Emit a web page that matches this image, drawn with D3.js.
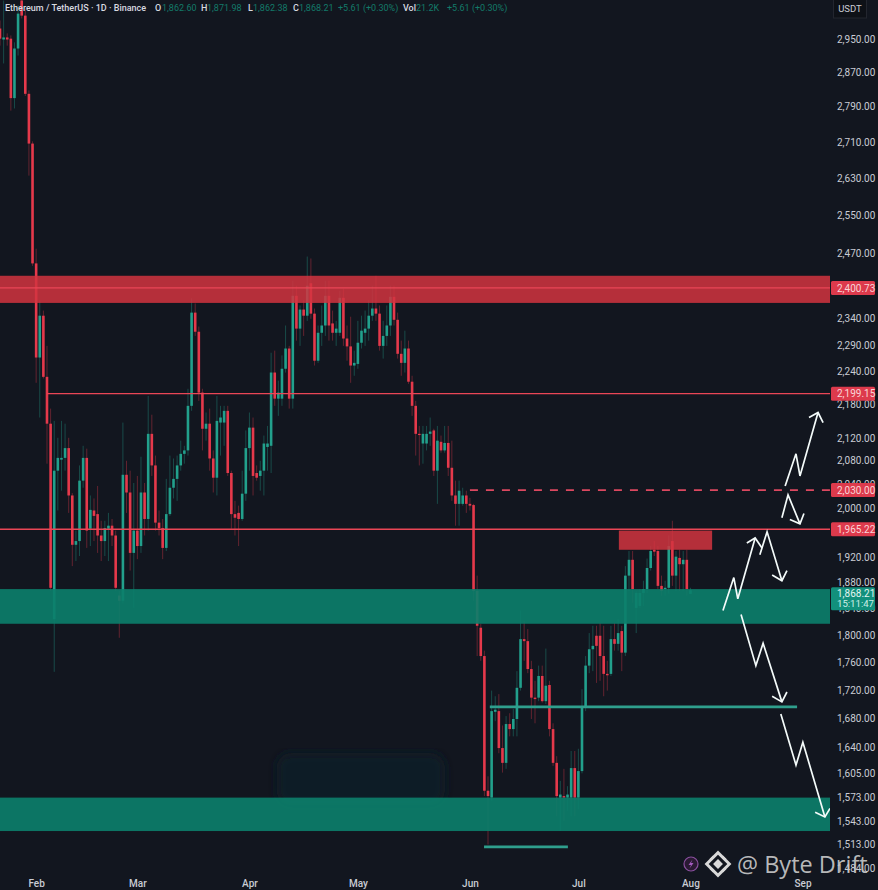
<!DOCTYPE html>
<html>
<head>
<meta charset="utf-8">
<title>ETHUSDT 1D</title>
<script src="https://cdn.jsdelivr.net/npm/d3@7"></script>
<style>
  html, body { margin: 0; padding: 0; background: #12161f; overflow: hidden; }
  svg { display: block; font-family: Roboto, "Noto Sans", sans-serif; }
</style>
</head>
<body>
<div id="chart"></div>
<script>
// Daily candles, first bar is 22 Jan
const opens = [
  2977,2950,2955,2952,2810,2928,3047,3009,2820,2706,
  2450,2266,2346,2230,2145,1824,2063,2082,2085,2102,
  2021,1940,1946,2046,2085,1966,1996,1990,1955,1946,
  1966,1971,1955,1860,1852,2056,2026,1927,1963,1938,
  2026,1982,2127,2072,1976,1967,1935,1990,2034,2049,
  2072,2092,2098,2177,2352,2315,2201,2136,2145,2084,
  2051,2147,2147,2168,2059,1990,1992,1982,2024,2102,
  2138,2059,2054,2063,2104,2106,2238,2190,2190,2245,
  2283,2190,2385,2321,2358,2346,2410,2350,2260,2313,
  2327,2385,2331,2313,2313,2381,2302,2287,2251,2254,
  2294,2313,2321,2346,2360,2350,2288,2307,2327,2383,
  2338,2273,2256,2283,2221,2177,2127,2110,2110,2127,
  2133,2063,2113,2098,2111,2068,2021,2007,2007,2021,
  2007,2005,1867,1811,1769,1582,1573,1689,1690,1639,
  1619,1672,1665,1679,1723,1794,1791,1750,1709,1709,
  1740,1704,1727,1665,1619,1573,1575,1573,1573,1612,
  1573,1608,1697,1755,1779,1799,1799,1769,1743,1743,
  1794,1787,1806,1774,1891,1916,1841,1844,1864,1870,
  1903,1932,1930,1875,1870,1872,1946,1891,1919,1909,
  1916,1862.6
];
const closes = [
  2952,2955,2950,2810,2928,3014,3009,2820,2706,2450,
  2266,2346,2230,2145,1872,2063,2085,2085,2102,2021,
  1940,1946,2046,2085,1963,1997,1987,1955,1946,1967,
  1971,1955,1872,1852,2056,2026,1927,1963,1938,2026,
  1982,2127,2072,1976,1967,1935,1990,2034,2049,2072,
  2092,2098,2177,2352,2315,2201,2136,2145,2084,2051,
  2150,2156,2168,2059,1990,1984,1982,2024,2102,2138,
  2054,2051,2063,2110,2110,2238,2190,2201,2245,2283,
  2190,2385,2321,2358,2346,2405,2350,2260,2313,2327,
  2385,2327,2313,2321,2381,2302,2287,2251,2256,2294,
  2317,2321,2346,2360,2350,2288,2307,2327,2383,2338,
  2273,2256,2283,2221,2177,2127,2125,2127,2127,2131,
  2063,2115,2098,2111,2068,2021,2007,2029,2021,2007,
  2004,1867,1814,1769,1582,1575,1690,1692,1639,1619,
  1672,1665,1679,1723,1794,1791,1750,1709,1707,1740,
  1704,1726,1665,1619,1575,1577,1573,1577,1612,1573,
  1608,1697,1755,1779,1784,1784,1769,1743,1741,1794,
  1787,1803,1774,1891,1916,1870,1864,1864,1870,1903,
  1930,1929,1875,1867,1872,1938,1891,1921,1909,1916,
  1870,1868.21
];
const highs = [
  2997,3047,2965,2960,2943,3035,3050,3027,2828,2711,
  2480,2376,2356,2288,2172,2150,2120,2150,2145,2120,
  2025,1963,2072,2106,2101,2021,2016,2037,1979,1979,
  1992,1982,1963,1867,2147,2080,2063,2042,2054,2087,
  2042,2195,2161,2089,1996,1982,2049,2089,2084,2089,
  2115,2106,2208,2380,2370,2325,2208,2165,2172,2098,
  2195,2177,2177,2177,2063,2012,2004,2063,2133,2165,
  2156,2072,2080,2124,2141,2275,2279,2223,2270,2327,
  2288,2415,2405,2366,2376,2464,2460,2360,2327,2366,
  2415,2415,2356,2336,2395,2399,2327,2344,2279,2336,
  2346,2356,2376,2405,2425,2366,2336,2366,2405,2405,
  2352,2298,2317,2298,2232,2186,2141,2141,2141,2156,
  2136,2141,2124,2141,2141,2115,2046,2046,2034,2029,
  2017,2007,1891,1817,1777,1601,1719,1711,1714,1670,
  1683,1687,1693,1747,1837,1821,1809,1762,1733,1755,
  1755,1780,1733,1673,1628,1595,1611,1588,1635,1635,
  1638,1721,1769,1803,1814,1814,1818,1814,1762,1814,
  1818,1824,1814,1906,1930,1930,1867,1870,1883,1918,
  1938,1946,1938,1891,1883,1955,1979,1930,1932,1930,
  1932,1871.98
];
const lows = [
  2935,2892,2935,2781,2786,2911,3002,2815,2635,2445,
  2219,2156,2227,2075,1867,1746,1996,2029,2063,1992,
  1906,1914,1922,2034,1935,1938,1946,1927,1914,1922,
  1914,1938,1867,1796,1848,1992,1899,1841,1917,1927,
  1955,1963,2054,1963,1955,1917,1930,1987,2016,2012,
  2063,2075,2089,2168,2307,2186,2098,2115,2063,2026,
  2021,2089,2106,2054,1966,1955,1938,1979,2012,2063,
  2021,2046,2029,2021,2063,2059,2177,2159,2177,2238,
  2172,2172,2298,2288,2307,2336,2340,2251,2256,2288,
  2307,2298,2298,2288,2307,2288,2260,2219,2232,2245,
  2283,2288,2298,2336,2336,2279,2264,2288,2307,2327,
  2264,2232,2238,2217,2159,2089,2072,2075,2098,2106,
  2054,2007,2094,2094,2054,2012,1971,1971,2004,1992,
  1996,1852,1769,1762,1575,1513,1569,1676,1632,1606,
  1611,1655,1655,1655,1719,1762,1744,1679,1673,1704,
  1702,1700,1655,1615,1549,1530,1543,1556,1549,1549,
  1558,1605,1690,1744,1747,1730,1733,1711,1719,1740,
  1777,1777,1747,1769,1867,1849,1803,1841,1844,1864,
  1899,1922,1870,1860,1860,1863,1875,1867,1867,1867,
  1860,1862.38
];

// Axis ticks
const priceTicks = [2950,2870,2790,2710,2630,2550,2470,2340,2290,2240,2180,2120,2080,2040,2000,
  1920,1880,1840,1800,1760,1720,1680,1640,1605,1573,1543,1513,1484];
const monthLabels = ["Feb","Mar","Apr","May","Jun","Jul","Aug","Sep"];
const monthBars = [10,38,69,99,130,160,191,222];

// Drawn levels and zones: [bar start, bar end, price top, price bottom]
const redZones = [[0,230,2425,2371],[171.2,197,1963,1932]];
const greenZones = [[0,230,1870,1817],[0,230,1573,1530]];
const faintBox = [76.6,123,1632,1563];
// [price, bar start, bar end]
const redLines = [[2400.73,0,230],[2199.15,13,230],[1965.22,0,230]];
const dashedLines = [[2030,130,230]];
const greenLines = [[1696,135.5,220.5],[1510,133.9,157.1]];

// Hand drawn arrows as [bar, price]
const arrowPaths = [
  [[200,1837],[203,1888],[204.1,1855],[208.9,1951]],
  [[206.6,1943],[208.9,1951],[210.8,1935]],
  [[210.2,1924],[212.2,1961],[216.3,1883]],
  [[213.6,1892],[216.3,1883],[217.7,1899]],
  [[217.2,2037],[220.2,2092],[221.3,2054],[226.3,2165]],
  [[223.8,2156],[226.3,2165],[227.7,2147]],
  [[216.3,1984],[218,2022],[221.3,1974]],
  [[218.5,1981],[221.3,1974],[222.4,1991]],
  [[205,1831],[209.1,1755],[211.1,1788],[216.3,1703]],
  [[213.6,1711],[216.3,1703],[217.7,1717]],
  [[216,1686],[220.2,1616],[222.1,1647],[228.2,1548]],
  [[225.5,1554],[228.2,1548],[229.6,1559]]
];

// Price scale tags
const tagPrices = [2400.73,2199.15,2030,1965.22];
const lastPrice = 1868.21;
const countdown = "15:11:47";

const headerParts = [
  ["Ethereum / TetherUS · 1D · Binance", 5, "t"],
  ["O", 155, "t"], ["1,862.60", 162, "v"],
  ["H", 201, "t"], ["1,871.98", 207, "v"],
  ["L", 248, "t"], ["1,862.38", 253, "v"],
  ["C", 293, "t"], ["1,868.21", 299, "v"],
  ["+5.61 (+0.30%)", 338, "v"],
  ["Vol", 403, "t"], ["21.2K", 416, "v"],
  ["+5.61 (+0.30%)", 447, "v"]
];

const W = 878, H = 890, plotRight = 830;
const UP = "#22a08c", DOWN = "#e5394b";

const svg = d3.select("#chart").append("svg").attr("width", W).attr("height", H);
svg.append("rect").attr("width", W).attr("height", H).attr("fill", "#12161f");

const x = d3.scaleLinear().domain([0, 222]).range([0, 802.5]);
const y = d3.scaleLog().domain([1513, 2950]).range([844.5, 39.5]);
const fmt = d3.format(",.2f");

const plot = svg.append("g");
plot.append("clipPath").attr("id", "plot-clip").append("rect")
  .attr("width", plotRight).attr("height", H);
plot.attr("clip-path", "url(#plot-clip)");

// faint leftover box behind the candles
svg.append("filter").attr("id", "soft").append("feGaussianBlur").attr("stdDeviation", 5);
plot.append("rect")
  .attr("x", x(faintBox[0])).attr("width", x(faintBox[1]) - x(faintBox[0]))
  .attr("y", y(faintBox[2])).attr("height", y(faintBox[3]) - y(faintBox[2]))
  .attr("rx", 14).attr("fill", "#101d25").attr("filter", "url(#soft)");

// candles
const bars = d3.range(opens.length);
const color = i => closes[i] >= opens[i] ? UP : DOWN;

plot.selectAll("line.wick").data(bars).join("line")
  .attr("class", "wick")
  .attr("x1", i => x(i)).attr("x2", i => x(i))
  .attr("y1", i => y(highs[i])).attr("y2", i => y(lows[i]))
  .attr("stroke", color).attr("stroke-width", 0.9).attr("opacity", 0.42);

plot.selectAll("rect.body").data(bars).join("rect")
  .attr("class", "body")
  .attr("x", i => x(i) - 1.3).attr("width", 2.6)
  .attr("y", i => y(Math.max(opens[i], closes[i])))
  .attr("height", i => Math.max(1.2, Math.abs(y(opens[i]) - y(closes[i]))))
  .attr("fill", color);

// zones sit above the candles, slightly see through
function drawZones(data, fill, alpha) {
  plot.append("g").selectAll("rect").data(data).join("rect")
    .attr("x", d => x(d[0])).attr("width", d => x(d[1]) - x(d[0]))
    .attr("y", d => y(d[2])).attr("height", d => y(d[3]) - y(d[2]))
    .attr("fill", fill).attr("fill-opacity", alpha);
}
drawZones(redZones, "#d2343f", 0.85);
drawZones(greenZones, "#0c7e6a", 0.92);

function drawLines(data, stroke, width, dash) {
  plot.append("g").selectAll("line").data(data).join("line")
    .attr("x1", d => x(d[1])).attr("x2", d => x(d[2]))
    .attr("y1", d => y(d[0])).attr("y2", d => y(d[0]))
    .attr("stroke", stroke).attr("stroke-width", width)
    .attr("stroke-dasharray", dash);
}
drawLines(redLines, "#ea4656", 1.4, null);
drawLines(dashedLines, "#dc4860", 1.6, "8 8");
drawLines(greenLines, "#2f9f8d", 2.6, null);

// arrows
const arrowLine = d3.line().x(d => x(d[0])).y(d => y(d[1]));
plot.append("g").selectAll("path").data(arrowPaths).join("path")
  .attr("d", arrowLine)
  .attr("fill", "none").attr("stroke", "#f4fbfa").attr("stroke-width", 1.7)
  .attr("stroke-linejoin", "miter");

// price axis
const yAxis = d3.axisRight(y).tickValues(priceTicks).tickSize(0).tickPadding(7).tickFormat(fmt);
svg.append("g").attr("transform", `translate(${plotRight},0)`).call(yAxis)
  .call(g => g.select(".domain").remove())
  .selectAll("text").attr("fill", "#c9ccd4").attr("font-size", 10).attr("font-family", "Roboto, sans-serif");

// month axis
const xAxis = d3.axisBottom(x).tickValues(monthBars).tickSize(0).tickPadding(0)
  .tickFormat((d, i) => monthLabels[i]);
svg.append("g").attr("transform", "translate(0,880)").call(xAxis)
  .call(g => g.select(".domain").remove())
  .selectAll("text").attr("fill", "#c9ccd4").attr("font-size", 10).attr("font-weight", 500)
  .attr("font-family", "Roboto, sans-serif");

// red price tags
const tags = svg.append("g").selectAll("g").data(tagPrices).join("g")
  .attr("transform", d => `translate(831,${y(d)})`);
tags.append("rect").attr("y", -7).attr("width", 44).attr("height", 14).attr("rx", 1.5).attr("fill", "#dd3a4c");
tags.append("text").attr("x", 6).attr("y", 3.6).attr("font-size", 10).attr("fill", "#f9d5d8")
  .text(d => fmt(d));

// last price tag with the countdown
const lastTag = svg.append("g").attr("transform", `translate(831,${y(lastPrice)})`);
lastTag.append("rect").attr("y", -3).attr("width", 44).attr("height", 23).attr("rx", 1.5).attr("fill", "#12907c");
lastTag.append("text").attr("x", 6).attr("y", 6.4).attr("font-size", 10).attr("fill", "#e3f5f1").text(fmt(lastPrice));
lastTag.append("text").attr("x", 6).attr("y", 17).attr("font-size", 9.6).attr("fill", "#cdeee7").text(countdown);

// currency button
svg.append("rect").attr("x", 833.5).attr("y", -2).attr("width", 33).attr("height", 20)
  .attr("fill", "#0e1117").attr("stroke", "#23262f");
svg.append("text").attr("x", 850).attr("y", 12).attr("text-anchor", "middle")
  .attr("font-size", 9.5).attr("fill", "#c9ccd4").text("USDT");

// header line
svg.append("g").selectAll("text").data(headerParts).join("text")
  .attr("x", d => d[1]).attr("y", 10.5).attr("font-size", 9)
  .attr("font-weight", d => d[2] === "t" ? 500 : 400)
  .attr("fill", d => d[2] === "t" ? "#d8dae0" : "#137a69")
  .text(d => d[0]);

// watermark
const mark = svg.append("g");
mark.append("circle").attr("cx", 691).attr("cy", 864).attr("r", 7).attr("fill", "#2a1a33")
  .attr("stroke", "#8a4f9e").attr("stroke-width", 1.2);
mark.append("path").attr("d", "M692.5 859.5 L688.5 865 L691 865 L689.5 868.5 L693.5 863 L691 863 Z").attr("fill", "#a45cc0");
const logo = mark.append("g").attr("transform", "translate(718,864) rotate(45)").attr("fill", "#d9d9d9");
logo.append("rect").attr("x", -3.5).attr("y", -3.5).attr("width", 7).attr("height", 7);
[0, 90, 180, 270].forEach(a => {
  logo.append("path").attr("transform", `rotate(${a})`)
    .attr("d", "M-9.5 -9.5 L2.5 -9.5 L-0.2 -6.6 L-6.6 -6.6 L-6.6 -0.2 L-9.5 2.5 Z");
});
mark.append("text").attr("x", 737).attr("y", 872.5).attr("font-family", "'Open Sans', 'Noto Sans', sans-serif")
  .attr("font-size", 23.5).attr("fill", "#c9c9c9").attr("fill-opacity", 0.92).text("@ Byte Drift");
</script>
</body>
</html>
